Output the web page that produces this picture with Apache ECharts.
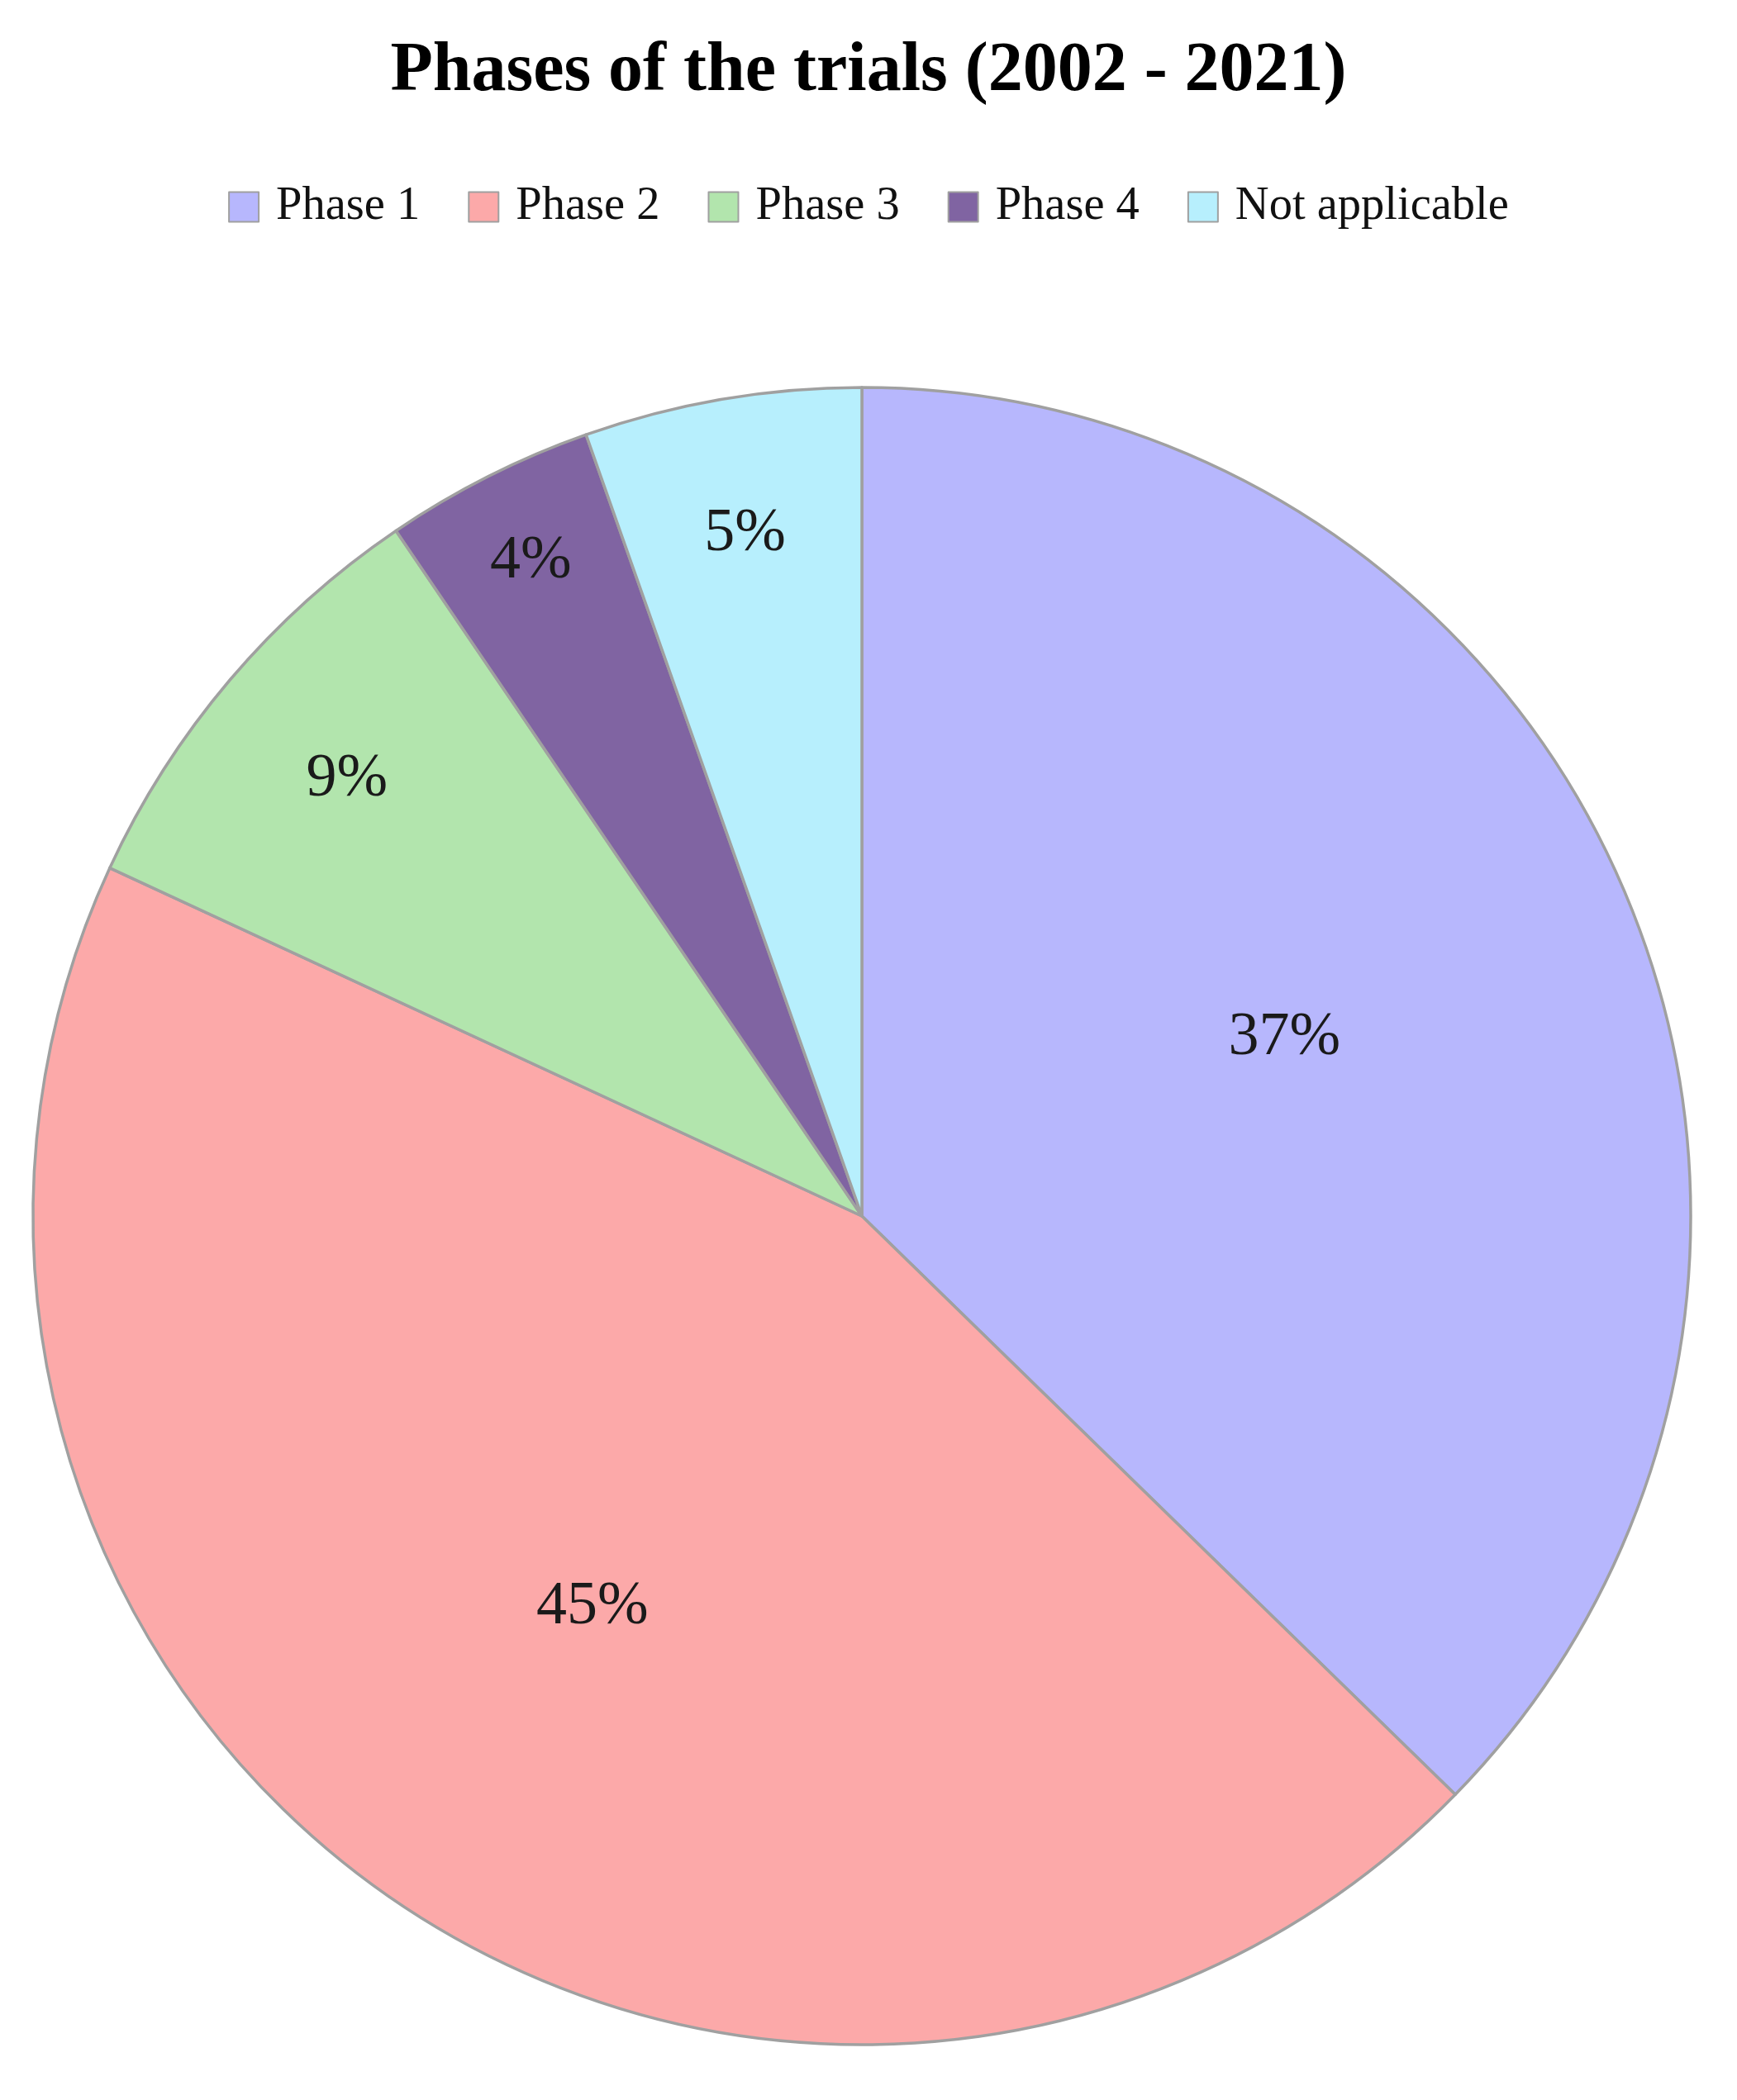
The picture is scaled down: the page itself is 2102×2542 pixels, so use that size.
<!DOCTYPE html>
<html>
<head>
<meta charset="utf-8">
<script src="https://cdn.jsdelivr.net/npm/echarts@6/dist/echarts.min.js"></script>
<style>
html,body{margin:0;padding:0;background:#fff;}
#main{width:2102px;height:2542px;}
</style>
</head>
<body>
<div id="main"></div>
<script>
const categories = ['Phase 1', 'Phase 2', 'Phase 3', 'Phase 4', 'Not applicable'];
const values = [37.3, 44.6, 8.6, 4.1, 5.4];
const colors = ['#b7b7fd', '#fca9a9', '#b2e5ad', '#8064a2', '#b7effd'];
const labelRadius = [0.55, 0.57, 0.81, 0.88, 0.83];

const CX = 1043, CY = 1472, R = 1003;
const chart = echarts.init(document.getElementById('main'), null, {renderer: 'canvas'});
chart.setOption({
  animation: false,
  backgroundColor: '#ffffff',
  title: {
    text: 'Phases of the trials (2002 - 2021)',
    left: 'center',
    top: 40,
    textStyle: {fontFamily: 'Liberation Serif', fontWeight: 'bold', fontSize: 84, color: '#000'}
  },
  legend: {
    top: 217,
    left: 'center',
    itemWidth: 36,
    itemHeight: 36,
    itemGap: 58,
    icon: 'rect',
    data: categories,
    textStyle: {fontFamily: 'Liberation Serif', fontSize: 56.5, color: '#111', padding: [0, 0, 0, 16]}
  },
  series: [{
    type: 'pie',
    center: [CX, CY],
    radius: [0, R],
    startAngle: 90,
    clockwise: true,
    percentPrecision: 0,
    avoidLabelOverlap: false,
    emphasis: {disabled: true},
    itemStyle: {borderColor: '#a0a0a0', borderWidth: 3.5},
    label: {
      show: true,
      position: 'inside',
      formatter: '{d}%',
      fontFamily: 'Liberation Serif',
      fontSize: 74,
      color: '#1a1a1a'
    },
    labelLine: {show: false},
    labelLayout: function (p) {
      const k = labelRadius[p.dataIndex] / 0.5;
      const r = p.labelRect;
      const lx = r.x + r.width / 2, ly = r.y + r.height / 2;
      return {dx: (lx - CX) * (k - 1), dy: (ly - CY) * (k - 1)};
    },
    data: categories.map((c, i) => ({name: c, value: values[i], itemStyle: {color: colors[i]}}))
  }]
});
</script>
</body>
</html>
